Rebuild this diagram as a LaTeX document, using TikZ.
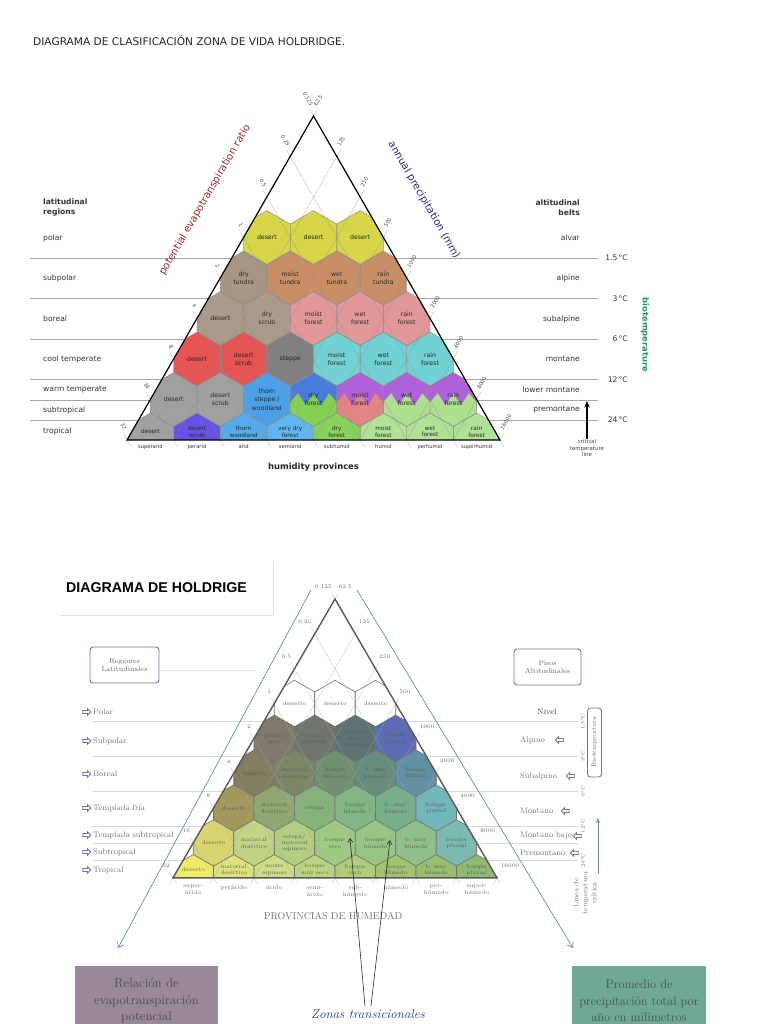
\documentclass[tikz,border=0pt]{standalone}
\usepackage{fontspec}
\newfontfamily\verd{DejaVu Sans}
\newfontfamily\arialf{Liberation Sans}
\usetikzlibrary{arrows.meta,shapes.arrows}

%% colours, upper chart
\definecolor{polDes}{RGB}{214,214,72}
\definecolor{dryTun}{RGB}{168,150,130}
\definecolor{wetTun}{RGB}{202,142,102}
\definecolor{borDes}{RGB}{170,154,138}
\definecolor{borFor}{RGB}{226,152,152}
\definecolor{cooDes}{RGB}{230,84,84}
\definecolor{cooSte}{RGB}{128,128,128}
\definecolor{cooFor}{RGB}{112,210,210}
\definecolor{warDes}{RGB}{160,160,160}
\definecolor{warTho}{RGB}{76,160,232}
\definecolor{warDry}{RGB}{72,124,220}
\definecolor{warPur}{RGB}{176,96,216}
\definecolor{subDry}{RGB}{132,208,84}
\definecolor{subMoi}{RGB}{226,132,132}
\definecolor{subWet}{RGB}{172,224,142}
\definecolor{troScr}{RGB}{102,82,228}
\definecolor{troTho}{RGB}{84,172,236}
\definecolor{troVdr}{RGB}{96,182,240}
\definecolor{troDry}{RGB}{134,210,92}
\definecolor{troMoi}{RGB}{176,226,150}
\definecolor{capRed}{RGB}{160,40,40}
\definecolor{capBlue}{RGB}{40,40,128}
\definecolor{bioGreen}{RGB}{40,150,90}
%% colours, lower chart
\definecolor{lTunSec}{RGB}{128,122,108}
\definecolor{lTunHum}{RGB}{112,118,110}
\definecolor{lTunMuy}{RGB}{94,114,116}
\definecolor{lTunPlu}{RGB}{92,108,180}
\definecolor{lDesB}{RGB}{132,124,94}
\definecolor{lMatB}{RGB}{124,134,100}
\definecolor{lHumB}{RGB}{112,144,114}
\definecolor{lMuyB}{RGB}{104,140,124}
\definecolor{lPluB}{RGB}{98,144,164}
\definecolor{lDesC}{RGB}{162,152,92}
\definecolor{lMatC}{RGB}{144,168,112}
\definecolor{lEstC}{RGB}{134,178,122}
\definecolor{lHumC}{RGB}{128,182,132}
\definecolor{lMuyC}{RGB}{118,176,138}
\definecolor{lPluC}{RGB}{112,182,186}
\definecolor{lDesD}{RGB}{216,212,112}
\definecolor{lMatD}{RGB}{192,212,132}
\definecolor{lEstD}{RGB}{178,206,128}
\definecolor{lSecD}{RGB}{158,202,132}
\definecolor{lHumD}{RGB}{152,196,132}
\definecolor{lMuyD}{RGB}{142,192,138}
\definecolor{lPluD}{RGB}{122,186,176}
\definecolor{lDesE}{RGB}{240,236,104}
\definecolor{lMatE}{RGB}{222,226,122}
\definecolor{lMonE}{RGB}{206,220,132}
\definecolor{lMscE}{RGB}{188,212,128}
\definecolor{lSecE}{RGB}{176,206,122}
\definecolor{lHumE}{RGB}{162,196,112}
\definecolor{lMuyE}{RGB}{152,190,112}
\definecolor{lPluE}{RGB}{142,186,112}
\definecolor{boxBlue}{RGB}{112,112,184}
\definecolor{linkTeal}{RGB}{70,136,156}
\definecolor{evFill}{RGB}{152,136,152}
\definecolor{prFill}{RGB}{112,168,152}
\definecolor{zonBlue}{RGB}{26,58,138}
\definecolor{grArrow}{RGB}{100,150,120}

%% hexagon: centre x, centre y, half width, corner radius
\newcommand{\hexcell}[4]{(#1,#2-#4) -- (#1+#3,#2-#4/2) -- (#1+#3,#2+#4/2)
  -- (#1,#2+#4) -- (#1-#3,#2+#4/2) -- (#1-#3,#2-#4/2) -- cycle}

%% row/index/colour/text
\newcommand{\upperCells}{3/0/polDes/desert, 3/1/polDes/desert, 3/2/polDes/desert,
  4/0/dryTun/{dry\\tundra}, 4/1/wetTun/{moist\\tundra}, 4/2/wetTun/{wet\\tundra},
  4/3/wetTun/{rain\\tundra},
  5/0/borDes/desert, 5/1/borDes/{dry\\scrub}, 5/2/borFor/{moist\\forest},
  5/3/borFor/{wet\\forest}, 5/4/borFor/{rain\\forest},
  6/0/cooDes/desert, 6/1/cooDes/{desert\\scrub}, 6/2/cooSte/steppe,
  6/3/cooFor/{moist\\forest}, 6/4/cooFor/{wet\\forest}, 6/5/cooFor/{rain\\forest},
  7/0/warDes/desert, 7/1/warDes/{desert\\scrub}, 7/2/warTho/{thorn\\steppe /\\woodland},
  7/3/subDry/{dry\\forest}, 7/4/subMoi/{moist\\forest}, 7/5/subWet/{wet\\forest},
  7/6/subWet/{rain\\forest},
  8/0/warDes/desert, 8/1/troScr/{desert\\scrub}, 8/2/troTho/{thorn\\woodland},
  8/3/troVdr/{very dry\\forest}, 8/4/troDry/{dry\\forest}, 8/5/troMoi/{moist\\forest},
  8/6/troMoi/{wet\\forest}, 8/7/troMoi/{rain\\forest}}

\newcommand{\lowerCells}{3/0/white/desierto, 3/1/white/desierto, 3/2/white/desierto,
  4/0/lTunSec/{tundra\\seca}, 4/1/lTunHum/{tundra\\húmeda},
  4/2/lTunMuy/{tundra\\muy\\húmeda}, 4/3/lTunPlu/{tundra\\pluvial},
  5/0/lDesB/desierto, 5/1/lMatB/{matorral\\desértico}, 5/2/lHumB/{bosque\\húmedo},
  5/3/lMuyB/{b. muy\\húmedo}, 5/4/lPluB/{bosque\\pluvial},
  6/0/lDesC/desierto, 6/1/lMatC/{matorral\\desértico}, 6/2/lEstC/estepa,
  6/3/lHumC/{bosque\\húmedo}, 6/4/lMuyC/{b. muy\\húmedo}, 6/5/lPluC/{bosque\\pluvial},
  7/0/lDesD/desierto, 7/1/lMatD/{matorral\\desértico}, 7/2/lEstD/{estepa/\\matorral\\espinoso},
  7/3/lSecD/{bosque\\seco}, 7/4/lHumD/{bosque\\húmedo}, 7/5/lMuyD/{b. muy\\húmedo},
  7/6/lPluD/{bosque\\pluvial},
  8/0/lDesE/desierto, 8/1/lMatE/{matorral\\desértico}, 8/2/lMonE/{monte\\espinoso},
  8/3/lMscE/{bosque\\muy seco}, 8/4/lSecE/{bosque\\seco}, 8/5/lHumE/{bosque\\húmedo},
  8/6/lMuyE/{b. muy\\húmedo}, 8/7/lPluE/{bosque\\pluvial}}

\begin{document}
\begin{tikzpicture}
[x=1pt,y=-1pt,
  hexline/.style={draw=black!45,line width=0.4pt},%
  guide/.style={draw=black!45,line width=0.35pt,opacity=0.6},%
  belt/.style={draw=black!35,line width=0.5pt},%
  hexlab/.style={font=\verd\fontsize{6.2}{8.2}\selectfont,align=center,inner sep=0pt,text=black!85},%
  hexlabB/.style={font=\verd\fontsize{5.8}{6.9}\selectfont,align=center,inner sep=0pt,text=black!85},%
  ticklab/.style={font=\verd\fontsize{5.2}{6}\selectfont,inner sep=0.5pt,text=black!70},%
  sideLab/.style={font=\verd\fontsize{7.6}{10.5}\selectfont,inner sep=0pt,text=black!80},%
  humLab/.style={font=\verd\fontsize{5.2}{6}\selectfont,inner sep=0pt,text=black!80},%
  lhexline/.style={draw=black!55,line width=0.6pt},%
  lguide/.style={draw=black!35,line width=0.4pt,opacity=0.6},%
  lbelt/.style={draw=black!15,line width=0.6pt},%
  lhexlab/.style={font=\fontsize{5.6}{6.4}\selectfont,align=center,inner sep=0pt,text=black!65},%
  lticklab/.style={font=\fontsize{5.4}{6}\selectfont,inner sep=0.5pt,text=black!60},%
  listLab/.style={font=\fontsize{8}{9}\selectfont,inner sep=0pt,text=black!55},%
  roundbox/.style={draw=boxBlue,line width=0.9pt,rounded corners=3pt,align=center,
    font=\fontsize{7}{8}\selectfont,text=black!60,inner sep=1pt},%
  rIcon/.style={single arrow,draw=boxBlue,fill=white,line width=0.8pt,minimum height=8pt,
    minimum width=6.5pt,single arrow head extend=1.2pt,inner sep=0.6pt},%
  lIcon/.style={rIcon,shape border rotate=180},%
  link/.style={draw=linkTeal,line width=0.6pt,-{Straight Barb[length=5pt,width=7pt]}},%
  zoneLink/.style={draw=black!85,line width=0.6pt,-{Straight Barb[length=4pt,width=5pt]}}]
\useasboundingbox (0,0) rectangle (768,1024);
\fill[white] (0,0) rectangle (768,1024);

%% ---------------- upper chart ----------------
\node[font=\verd\fontsize{10.6}{12}\selectfont,anchor=west,inner sep=0pt,text=black!85] (title) at (33,41)
  {DIAGRAMA DE CLASIFICACIÓN ZONA DE VIDA HOLDRIDGE.};

\coordinate (tA) at (313.5,116);
\coordinate (tL) at (127,440);
\coordinate (tR) at (500,440);

%% belts
\foreach \y in {258,298.5,339,379.5,400.7,420}
{
  \draw[belt] (30,\y) -- (598,\y);
}

%% hexagons
\begin{scope}
\clip (tA) -- (tL) -- (tR) -- cycle;
\foreach \m/\i/\col/\txt in \upperCells
{
  \pgfmathsetmacro\hx{313.5+(2*\i-\m+1)*23.3}
  \pgfmathsetmacro\hy{116+\m*40.5}
  \path[fill=\col] \hexcell{\hx}{\hy}{23.3}{27};
}
%% warm temperate tops
\foreach \i/\col in {3/warDry,4/warPur,5/warPur,6/warPur}
{
  \pgfmathsetmacro\hx{313.5+(2*\i-6)*23.3}
  \begin{scope}
  \clip \hexcell{\hx}{399.5}{23.3}{27};
  \fill[\col] (\hx-30,365) -- (\hx+30,365) -- (\hx+30,402) -- (\hx+23.3,402)
    -- (\hx+15.5,393) -- (\hx+7.8,405) -- (\hx,393) -- (\hx-7.8,405)
    -- (\hx-15.5,393) -- (\hx-23.3,402) -- (\hx-30,402) -- cycle;
  \end{scope}
}
\foreach \m/\i/\col/\txt in \upperCells
{
  \pgfmathsetmacro\hx{313.5+(2*\i-\m+1)*23.3}
  \pgfmathsetmacro\hy{116+\m*40.5}
  \path[hexline] \hexcell{\hx}{\hy}{23.3}{27};
}
\end{scope}

%% guide lines
\foreach \k in {0,...,8}
{
  \draw[guide] (313.5-\k*23.3-4.2,116+\k*40.5-7.3) -- (313.5+8*23.3-2*\k*23.3+4.2,447.3);
  \draw[guide] (313.5+\k*23.3+4.2,116+\k*40.5-7.3) -- (313.5+2*\k*23.3-8*23.3,440);
}
\draw[line width=1.2pt,line join=miter] (tA) -- (tL) -- (tR) -- cycle;

%% hexagon texts
\foreach \m/\i/\col/\txt in \upperCells
{
  \pgfmathsetmacro\hx{313.5+(2*\i-\m+1)*23.3}
  \pgfmathsetmacro\hy{116+\m*40.5}
  \ifnum\m=8
    \node[hexlabB] (u\m\i) at (\hx,\hy-8.5) {\txt};
  \else
    \node[hexlab] (u\m\i) at (\hx,\hy) {\txt};
  \fi
}

%% side values
\foreach \k/\lab in {0/0.125,1/0.25,2/0.5,3/1,4/2,5/4,6/8,7/16,8/32}
{
  \node[ticklab,rotate=-60,anchor=east] (pet\k) at (313.5-\k*23.3-1.5,116+\k*40.5-10) {\lab};
}
\foreach \k/\lab in {0/62.5,1/125,2/250,3/500,4/1000,5/2000,6/4000,7/8000,8/16000}
{
  \node[ticklab,rotate=60,anchor=west] (pre\k) at (313.5+\k*23.3+1.5,116+\k*40.5-10) {\lab};
}
\node[rotate=60,text=capRed,font=\verd\fontsize{10.2}{12}\selectfont] (petCap) at (205,200)
  {potential evapotranspiration ratio};
\node[rotate=-60,text=capBlue,font=\verd\fontsize{10.2}{12}\selectfont] (preCap) at (424,200)
  {annual precipitation (mm)};

%% latitudinal regions and altitudinal belts
\node[sideLab,anchor=west,align=left,font=\verd\bfseries\fontsize{7.6}{10.5}\selectfont] (latHead) at (43,207.5)
  {latitudinal\\regions};
\node[sideLab,anchor=east,align=right,font=\verd\bfseries\fontsize{7.6}{10.5}\selectfont] (altHead) at (580,207.5)
  {altitudinal\\belts};
\foreach \y/\name in {238/polar,278/subpolar,319/boreal,359/cool temperate,
  390/warm temperate,410/subtropical,431/tropical}
{
  \node[sideLab,anchor=west] at (43,\y) {\name};
}
\foreach \y/\name in {238/alvar,278/alpine,319/subalpine,359/montane,
  390/lower montane,410/premontane}
{
  \node[sideLab,anchor=east] at (580,\y) {\name};
}
\foreach \y/\t in {258/1.5,298.5/3,339/6,379.5/12,420/24}
{
  \node[sideLab,anchor=east] at (628,\y) {\t\,°C};
}
\node[rotate=-90,text=bioGreen,font=\verd\bfseries\fontsize{8.4}{10}\selectfont] (bioCap) at (645,335)
  {biotemperature};
\node[font=\verd\fontsize{5.4}{6.6}\selectfont,align=center,inner sep=0pt,text=black!75] (critText) at (587,448)
  {critical\\temperature\\line};
\coordinate (critHead) at (587,401);
\draw[line width=1.3pt,-{Stealth[length=6.5pt,width=5.5pt]}] (critText.north) -- (critHead);

%% humidity provinces
\foreach \i/\name in {0/superarid,1/perarid,2/arid,3/semiarid,4/subhumid,5/humid,
  6/perhumid,7/superhumid}
{
  \node[humLab] (hum\i) at (313.5+2*\i*23.3-7*23.3,447) {\name};
}
\node[font=\verd\bfseries\fontsize{8.4}{10}\selectfont,text=black!85] (humCap) at (313.5,467)
  {humidity provinces};

%% ---------------- lower chart ----------------
\draw[black!12,line width=0.8pt] (60,615) -- (273,615) -- (273,562);
\draw[black!10,line width=0.6pt] (160,670) -- (255,670);
\node[font=\arialf\bfseries\fontsize{14.2}{16}\selectfont,anchor=west,inner sep=0pt] (title2) at (66,588)
  {DIAGRAMA DE HOLDRIGE};

\coordinate (lA) at (335,599);
\coordinate (lL) at (173,877.8);
\coordinate (lR) at (497,877.8);

\foreach \y in {721.5,756.3,791.2,826,843,860.4}
{
  \draw[lbelt] (92,\y) -- (578,\y);
}

\begin{scope}
\clip (lA) -- (lL) -- (lR) -- cycle;
\foreach \m/\i/\col/\txt in \lowerCells
{
  \pgfmathsetmacro\hx{335+(2*\i-\m+1)*20.25}
  \pgfmathsetmacro\hy{599+\m*34.85}
  \path[fill=\col,lhexline] \hexcell{\hx}{\hy}{20.25}{23.23};
}
\end{scope}
\foreach \k in {0,...,8}
{
  \draw[lguide] (335-\k*20.25-3.5,599+\k*34.85-6) -- (335+8*20.25-2*\k*20.25+3.5,883.8);
  \draw[lguide] (335+\k*20.25+3.5,599+\k*34.85-6) -- (335+2*\k*20.25-8*20.25-3.5,883.8);
}
\draw[black!65,line width=1.4pt,line join=miter] (lA) -- (lL) -- (lR) -- cycle;

\foreach \m/\i/\col/\txt in \lowerCells
{
  \pgfmathsetmacro\hx{335+(2*\i-\m+1)*20.25}
  \pgfmathsetmacro\hy{599+\m*34.85}
  \ifnum\m=8
    \node[lhexlab] (w\m\i) at (\hx,\hy-8) {\txt};
  \else
    \node[lhexlab] (w\m\i) at (\hx,\hy) {\txt};
  \fi
}
\foreach \k/\lab in {0/0.125,1/0.25,2/0.5,3/1,4/2,5/4,6/8,7/16,8/32}
{
  \node[lticklab,anchor=east] (lpet\k) at (335-\k*20.25-2.5,599+\k*34.85-12) {\lab};
}
\foreach \k/\lab in {0/62.5,1/125,2/250,3/500,4/1000,5/2000,6/4000,7/8000,8/16000}
{
  \node[lticklab,anchor=west] (lpre\k) at (335+\k*20.25+3,599+\k*34.85-12) {\lab};
}
\foreach \i/\name in {0/{super-\\árido},1/perárido,2/árido,3/{semi-\\árido},
  4/{sub-\\húmedo},5/húmedo,6/{per-\\húmedo},7/{super-\\húmedo}}
{
  \node[lhexlab,anchor=north,text=black!55,font=\fontsize{6}{7}\selectfont] (lhum\i)
    at (335+2*\i*20.25-7*20.25,885) {\name};
}
\node[font=\fontsize{10}{12}\selectfont,text=black!55] (lhumCap) at (333,916)
  {PROVINCIAS DE HUMEDAD};

%% side lists
\node[roundbox,minimum width=69pt,minimum height=36pt] (regBox) at (124.5,665)
  {Regiones\\Latitudinales};
\node[roundbox,minimum width=67pt,minimum height=36pt] (pisBox) at (547.5,667)
  {Pisos\\Altitudinales};
\foreach \y/\name in {712/Polar,741/Subpolar,774/Boreal,808/Templada fría,
  835/Templada subtropical,852/Subtropical,870/Tropical}
{
  \node[rIcon] (ri\y) at (86,\y) {};
  \node[listLab,anchor=west] (rl\y) at (93,\y) {\name};
}
\node[listLab,text=black!75] (nivel) at (547,712) {Nivel};
\foreach \y/\name/\ax in {740/Alpino/560,776/Subalpino/571,811/Montano/566,
  836/Montano bajo/578,853/Premontano/575}
{
  \node[listLab,anchor=west] (al\y) at (520,\y) {\name};
  \node[lIcon] (ai\y) at (\ax,\y) {};
}
\node[roundbox,rotate=90,minimum width=69pt,minimum height=14pt,
  font=\fontsize{6}{7}\selectfont] (bioBox) at (594.5,742.5) {Biotemperatura};
\foreach \y/\t in {721.5/{1,5},756.3/3,791.2/6,826/12,860.4/24}
{
  \node[rotate=90,font=\fontsize{5}{6}\selectfont,text=black!55,inner sep=0pt] at (583,\y) {\t°C};
}
\coordinate (grTail) at (598,874);
\coordinate (grHead) at (598,818);
\draw[grArrow,line width=1pt,-{Stealth[length=5pt,width=4pt]}] (grTail) -- (grHead);
\node[rotate=90,align=center,font=\fontsize{7}{9}\selectfont,text=black!55,inner sep=0pt] (critLow)
  at (585,893) {Línea de\\temperatura\\crítica};

%% links to the boxes
\coordinate (petTop) at (311,590);
\coordinate (petEnd) at (118,948);
\coordinate (preTop) at (357,590);
\coordinate (preEnd) at (573,948);
\draw[link] (petTop) -- (petEnd);
\draw[link] (preTop) -- (preEnd);
\node[fill=evFill,anchor=north,minimum width=143pt,minimum height=70pt,align=center,
  font=\fontsize{13}{16.5}\selectfont,text=black!70,inner sep=0pt] (evBox) at (146.5,966)
  {Relación de\\evapotranspiración\\potencial};
\node[fill=prFill,anchor=north,minimum width=134pt,minimum height=70pt,align=center,
  font=\fontsize{12.4}{16.5}\selectfont,text=black!70,inner sep=0pt] (prBox) at (639,966)
  {Promedio de\\precipitación total por\\año en milímetros};
\node[font=\itshape\fontsize{13}{15}\selectfont,text=zonBlue] (zonas) at (368,1014)
  {Zonas transicionales};
\coordinate (zoneA) at (350,838);
\coordinate (zoneB) at (390,840);
\draw[zoneLink] ([xshift=-3pt]zonas.north) -- (zoneA);
\draw[zoneLink] ([xshift=3pt]zonas.north) -- (zoneB);
\end{tikzpicture}
\end{document}
